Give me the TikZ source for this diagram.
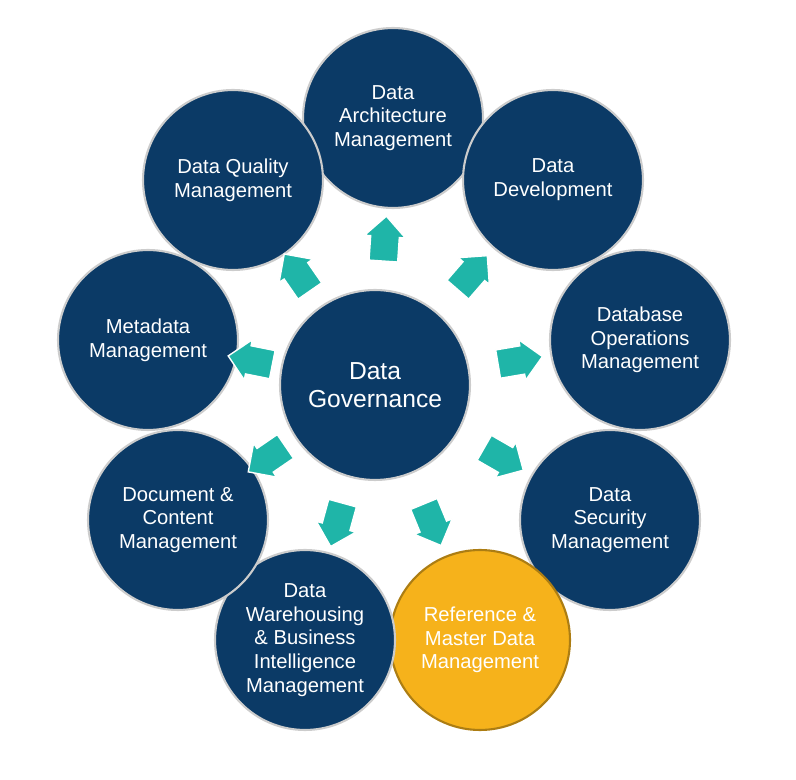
\documentclass[tikz,border=0pt]{standalone}
\usepackage{fontspec}
\setmainfont{Liberation Sans}
\usetikzlibrary{shapes.arrows}
\definecolor{navy}{HTML}{0B3A66}
\definecolor{gold}{HTML}{F6B21B}
\definecolor{teal}{HTML}{1FB5A8}
\begin{document}
\begin{tikzpicture}[x=0.02cm,y=-0.02cm,
        areanode/.style={circle, draw=gray!40, line width=1.2pt, fill=navy, text=white, minimum size=3.6cm, inner sep=0pt, align=center, font=\fontsize{11.5}{13.5}\selectfont},
        govnode/.style={areanode, minimum size=3.8cm, font=\fontsize{14}{16}\selectfont},
        flowarrow/.style={single arrow, draw=white, fill=teal, line width=0.8pt, minimum height=0.9cm, minimum width=0.82cm, inner sep=0.22cm, single arrow head extend=0.1cm, sloped, allow upside down, rotate=180},
    ]
        \useasboundingbox (0,0) rectangle (796,780);
        %Nodes
        \node[govnode] (gov) at (375,385) {Data\\Governance};
        \node[areanode] (arch) at (393,118) {Data\\Architecture\\Management};
        \node[areanode] (dev) at (553,180) {Data\\Development};
        \node[areanode] (ops) at (640,340) {Database\\Operations\\Management};
        \node[areanode] (sec) at (610,520) {Data\\Security\\Management};
        \node[areanode, fill=gold, draw=gold!70!black] (ref) at (480,640) {Reference \&\\Master Data\\Management};
        \node[areanode] (dwh) at (305,640) {Data\\Warehousing\\\& Business\\Intelligence\\Management};
        \node[areanode] (doc) at (178,520) {Document \&\\Content\\Management};
        \node[areanode] (meta) at (148,340) {Metadata\\Management};
        \node[areanode] (qual) at (233,180) {Data Quality\\Management};

        %Arrows
        \foreach \t in {arch,dev,ops,sec,ref,dwh,doc,meta,qual}{
            \path (\t) -- (gov) node[flowarrow, pos=0.46] (arr-\t) {};
        }
    \end{tikzpicture}
\end{document}
